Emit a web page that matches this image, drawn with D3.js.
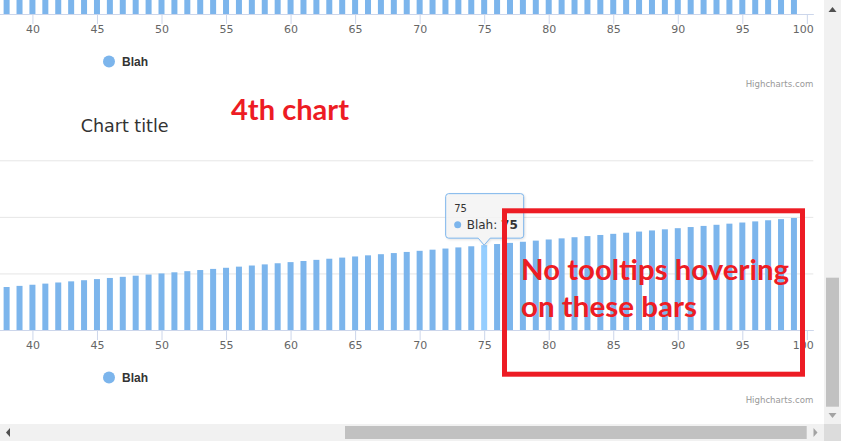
<!DOCTYPE html>
<meta charset="utf-8">
<script src="https://d3js.org/d3.v7.min.js"></script>
<style>
    body { margin: 0; overflow: hidden; background: #fff; }
    svg { display: block; }
</style>
<body>
<svg></svg>
<script>

    var width = 841;
    var height = 441;

    // visible part of the "Blah" series (x = category)
    var categories = [37, 38, 39, 40, 41, 42, 43, 44, 45, 46, 47, 48, 49, 50, 51, 52, 53, 54, 55, 56,
                      57, 58, 59, 60, 61, 62, 63, 64, 65, 66, 67, 68, 69, 70, 71, 72, 73, 74, 75, 76,
                      77, 78, 79, 80, 81, 82, 83, 84, 85, 86, 87, 88, 89, 90, 91, 92, 93, 94, 95, 96,
                      97, 98, 99];
    var values = [37, 38, 39, 40, 41, 42, 43, 44, 45, 46, 47, 48, 49, 50, 51, 52, 53, 54, 55, 56,
                  57, 58, 59, 60, 61, 62, 63, 64, 65, 66, 67, 68, 69, 70, 71, 72, 73, 74, 75, 76,
                  77, 78, 79, 80, 81, 82, 83, 84, 85, 86, 87, 88, 89, 90, 91, 92, 93, 94, 95, 96,
                  97, 98, 99];
    // only the ticks that are inside the window
    var xTicks = [40, 45, 50, 55, 60, 65, 70, 75, 80, 85, 90, 95, 100];
    var yTicks = [0, 50, 100, 150];
    var seriesName = "Blah";
    var hovered = 75;

    var data = categories.map((c, i) => ({x: c, y: values[i]}));

    // the page is scrolled sideways, so the plot starts left of the window
    var plot = {left: -490.3, right: 813.3, top: 160.3, bottom: 330};

    var x = d3.scaleLinear().domain([-0.5, 100.5]).range([plot.left, plot.right]);
    var y = d3.scaleLinear().domain([0, 150]).range([plot.bottom, plot.top]);
    var barW = (x(1) - x(0)) * 0.465;

    var blue = "#7cb5ec";
    var font = "'DejaVu Sans', 'Lucida Grande', sans-serif";

    var svg = d3.select("svg")
        .attr("width", width)
        .attr("height", height)
        .attr("viewBox", [0, 0, width, height]);

    function drawChart(g, withTitle) {
        if (withTitle) {
            g.append("text")
                .attr("x", 80.7).attr("y", 132.3)
                .attr("fill", "#333")
                .style("font-family", font)
                .style("font-size", "17.5px")
                .text("Chart title");
        }

        // grid
        g.append("g")
            .call(d3.axisLeft(y).tickValues(yTicks).tickSize(-(plot.right)).tickFormat(""))
            .call(g => g.select(".domain").remove())
            .call(g => g.selectAll(".tick line").attr("stroke", "#e6e6e6").attr("x1", plot.right).attr("x2", 0));

        // bars
        g.append("g")
            .selectAll("rect")
            .data(data)
            .join("rect")
            .attr("x", d => x(d.x) - barW / 2)
            .attr("width", barW)
            .attr("y", d => y(d.y))
            .attr("height", d => y(0) - y(d.y))
            .attr("fill", d => (withTitle && d.x == hovered) ? "#95ceff" : blue);

        // x axis
        var ax = g.append("g")
            .attr("transform", `translate(0,${plot.bottom})`)
            .call(d3.axisBottom(x).tickValues(xTicks).tickSize(10).tickSizeOuter(0).tickPadding(1.5));
        ax.select(".domain").attr("stroke", "#ccd6eb");
        ax.selectAll(".tick line").attr("stroke", "#ccd6eb");
        ax.selectAll(".tick text")
            .attr("fill", "#666")
            .style("font-family", font)
            .style("font-size", "11px");
        ax.select(".tick:last-of-type text")
            .attr("text-anchor", "end")
            .attr("x", plot.right - x(100));

        // legend
        g.append("circle")
            .attr("cx", 109).attr("cy", 377.5).attr("r", 6)
            .attr("fill", blue);
        g.append("text")
            .attr("x", 122).attr("y", 382)
            .attr("fill", "#333")
            .style("font-family", "'Liberation Sans', Arial, sans-serif")
            .style("font-size", "12px")
            .style("font-weight", "bold")
            .text(seriesName);

        // credits
        g.append("text")
            .attr("x", plot.right).attr("y", 403)
            .attr("text-anchor", "end")
            .attr("fill", "#999")
            .style("font-family", font)
            .style("font-size", "8.6px")
            .text("Highcharts.com");
    }

    // previous chart, scrolled mostly out of view
    drawChart(svg.append("g").attr("transform", "translate(0,-316)"), false);
    // 4th chart
    drawChart(svg.append("g"), true);

    // tooltip on the hovered bar
    var hp = data.find(d => d.x == hovered);
    var tx = x(hp.x), ty = y(hp.y);
    var L = tx - 38.5, R = tx + 39.5, T = ty - 51.5, B = ty - 7, r = 3;
    var tip = svg.append("g");
    tip.append("path")
        .attr("d", `M${L + r},${T} H${R - r} Q${R},${T} ${R},${T + r} V${B - r} Q${R},${B} ${R - r},${B}
                    H${tx + 6} L${tx},${ty} L${tx - 6},${B} H${L + r} Q${L},${B} ${L},${B - r} V${T + r} Q${L},${T} ${L + r},${T} Z`)
        .attr("fill", "rgba(247,247,247,0.85)")
        .attr("stroke", blue)
        .attr("stroke-width", 1)
        .style("filter", "drop-shadow(1px 1px 1px rgba(0,0,0,0.12))");
    tip.append("text")
        .attr("x", L + 8.5).attr("y", T + 18)
        .attr("fill", "#333")
        .style("font-family", font)
        .style("font-size", "10px")
        .text(hp.x);
    tip.append("circle")
        .attr("cx", L + 12).attr("cy", T + 31).attr("r", 3.5)
        .attr("fill", blue);
    var line = tip.append("text")
        .attr("x", L + 21).attr("y", T + 35)
        .attr("fill", "#333")
        .style("font-family", font)
        .style("font-size", "12px");
    line.append("tspan").text(seriesName + ": ");
    line.append("tspan").style("font-weight", "bold").text(hp.y);

    // red annotations
    var red = "#ed1c24";
    var note = "Lato, 'Open Sans', sans-serif";
    svg.append("text")
        .attr("x", 231).attr("y", 120)
        .attr("fill", red)
        .attr("textLength", 118).attr("lengthAdjust", "spacingAndGlyphs")
        .style("font-family", note).style("font-weight", "bold").style("font-size", "28px")
        .text("4th chart");
    svg.append("rect")
        .attr("x", 504.5).attr("y", 210.8)
        .attr("width", 298).attr("height", 163.4)
        .attr("fill", "none")
        .attr("stroke", red)
        .attr("stroke-width", 5);
    svg.append("text")
        .attr("x", 521).attr("y", 279.5)
        .attr("fill", red)
        .attr("textLength", 268).attr("lengthAdjust", "spacingAndGlyphs")
        .style("font-family", note).style("font-weight", "bold").style("font-size", "29px")
        .text("No tooltips hovering");
    svg.append("text")
        .attr("x", 521).attr("y", 317)
        .attr("fill", red)
        .attr("textLength", 176).attr("lengthAdjust", "spacingAndGlyphs")
        .style("font-family", note).style("font-weight", "bold").style("font-size", "29px")
        .text("on these bars");

    // browser scrollbars
    var sb = svg.append("g");
    sb.append("rect").attr("x", 824).attr("y", 0).attr("width", 17).attr("height", 424).attr("fill", "#f1f1f1");
    sb.append("rect").attr("x", 0).attr("y", 424).attr("width", 824).attr("height", 17).attr("fill", "#f1f1f1");
    sb.append("rect").attr("x", 824).attr("y", 424).attr("width", 17).attr("height", 17).attr("fill", "#dcdcdc");
    sb.append("rect").attr("x", 826).attr("y", 277.7).attr("width", 13).attr("height", 129).attr("fill", "#c1c1c1");
    sb.append("rect").attr("x", 345).attr("y", 426).attr("width", 461.7).attr("height", 13).attr("fill", "#c1c1c1");
    sb.append("path").attr("d", "M828.5,12 L832.5,7 L836.5,12 Z").attr("fill", "#505050");
    sb.append("path").attr("d", "M828.5,413 L832.5,418 L836.5,413 Z").attr("fill", "#a3a3a3");
    sb.append("path").attr("d", "M10,428 L6,432.5 L10,437 Z").attr("fill", "#505050");
    sb.append("path").attr("d", "M813.5,428 L817.5,432.5 L813.5,437 Z").attr("fill", "#a3a3a3");

</script>
</body>
